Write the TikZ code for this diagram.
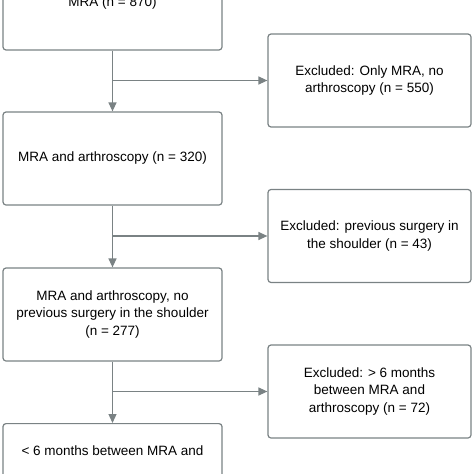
\documentclass[tikz,border=0pt]{standalone}
\usepackage{fontspec}
\setmainfont{Liberation Sans}
\usetikzlibrary{arrows.meta, positioning, calc}
\definecolor{flowgray}{RGB}{122,130,132}

\begin{document}
\begin{tikzpicture}[x=1pt, y=-1pt, >={Triangle[length=9pt,width=8pt]},
    box/.style={draw=flowgray, line width=1.2pt, rounded corners=3pt, align=center,
        minimum height=93pt, inner sep=0pt, font=\fontsize{13.5}{17.5}\selectfont},
    mainbox/.style={box, minimum width=219pt},
    exclbox/.style={box, minimum width=203pt},
    flow/.style={draw=flowgray, line width=1.2pt}]
    \clip (0,0) rectangle (474,474);
    % main column
    \node[mainbox] (all) at (112.5,3.5) {MRA (n = 870)};
    \node[mainbox] (arth) at (112.5,158.5) {MRA and arthroscopy (n = 320)};
    \node[mainbox] (nosurg) at (112.5,314.5) {MRA and arthroscopy, no\\previous surgery in the shoulder\\(n = 277)};
    \node[mainbox, anchor=north, text depth=38pt] (short) at (112.5,423) {< 6 months between MRA and};
    % exclusions
    \node[exclbox] (onlymra) at (369.5,80.5) {Excluded: Only MRA, no\\arthroscopy (n = 550)};
    \node[exclbox] (prevsurg) at (369.5,236) {Excluded: previous surgery in\\the shoulder (n = 43)};
    \node[exclbox] (longgap) at (369.5,391.5) {Excluded: > 6 months\\between MRA and\\arthroscopy (n = 72)};
    % arrows
    \draw[flow, ->] (all) -- (arth);
    \draw[flow, ->] (arth) -- (nosurg);
    \draw[flow, ->] (nosurg) -- (short);
    \draw[flow, ->] (all.south |- onlymra.west) -- (onlymra.west);
    \draw[flow, ->] (arth.south |- prevsurg.west) -- (prevsurg.west);
    \draw[flow, ->] (nosurg.south |- longgap.west) -- (longgap.west);
\end{tikzpicture}
\end{document}
